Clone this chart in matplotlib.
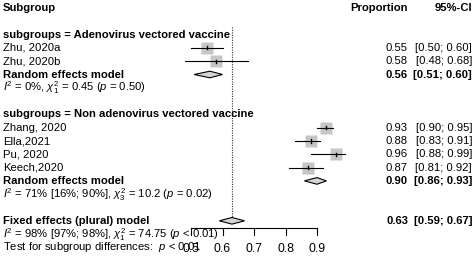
import matplotlib
matplotlib.use('Agg')
import matplotlib.pyplot as plt
from matplotlib.patches import Polygon
from matplotlib.transforms import blended_transform_factory

plt.rcParams['font.family'] = 'Liberation Sans'
plt.rcParams['mathtext.fontset'] = 'custom'
plt.rcParams['mathtext.rm'] = 'Liberation Sans'
plt.rcParams['mathtext.it'] = 'Liberation Sans:italic'
plt.rcParams['mathtext.bf'] = 'Liberation Sans:bold'

# study rows
studies = ['Zhu, 2020a', 'Zhu, 2020b', 'Zhang, 2020', 'Ella,2021', 'Pu, 2020', 'Keech,2020']
study_rows = [3, 4, 9, 10, 11, 12]
prop = [0.55, 0.58, 0.93, 0.88, 0.96, 0.87]
lower = [0.50, 0.48, 0.90, 0.83, 0.88, 0.81]
upper = [0.60, 0.68, 0.95, 0.91, 0.99, 0.92]
box_size = [10, 11, 11, 11, 11, 11]   # px

# pooled estimates
pooled_labels = ['Random effects model', 'Random effects model', 'Fixed effects (plural) model']
pooled_rows = [5, 13, 16]
pooled_est = [0.56, 0.90, 0.63]
pooled_lo = [0.51, 0.86, 0.59]
pooled_hi = [0.60, 0.93, 0.67]

group_labels = ['subgroups = Adenovirus vectored vaccine',
                'subgroups = Non adenovirus vectored vaccine']
group_rows = [2, 8]

het_text = [r'$I^2$ = 0%, $\chi^2_1$ = 0.45 ($p$ = 0.50)',
            r'$I^2$ = 71% [16%; 90%], $\chi^2_3$ = 10.2 ($p$ = 0.02)',
            r'$I^2$ = 98% [97%; 98%], $\chi^2_1$ = 74.75 ($p$ < 0.01)',
            r'Test for subgroup differences:  $p$ < 0.01']
het_rows = [6, 14, 17, 18]

ticks = [0.5, 0.6, 0.7, 0.8, 0.9]
ref_line = 0.63

W, H = 474, 258
fig = plt.figure(figsize=(W / 100, H / 100), dpi=100)
ax = fig.add_axes([0, 0, 1, 1])
ax.axis('off')
# 315 px per unit, 0.5 at x=191px ; 13.3 px per row, row 0 at y=8px
ax.set_xlim(0.5 - 191 / 315, 0.5 + (W - 191) / 315)
ax.set_ylim((H - 8) / 13.3, -8 / 13.3)

tr = blended_transform_factory(fig.transFigure, ax.transData)
fs = 8.1
LEFT = 3 / W
PROP_X = 408 / W
CI_X = 472 / W

ax.text(LEFT, 0, 'Subgroup', transform=tr, fontsize=fs, fontweight='bold', va='center')
ax.text(PROP_X, 0, 'Proportion', transform=tr, fontsize=fs, fontweight='bold', va='center', ha='right')
ax.text(CI_X, 0, '95%-CI', transform=tr, fontsize=fs, fontweight='bold', va='center', ha='right')

for lab, r in zip(group_labels, group_rows):
    ax.text(LEFT, r, lab, transform=tr, fontsize=fs, fontweight='bold', va='center')

# reference line (fixed effect estimate)
ax.plot([ref_line, ref_line], [1.45, 15.8], color='#333333', lw=0.8, ls=(0, (1, 1.2)), zorder=1)

for name, r, p, lo, hi, s in zip(studies, study_rows, prop, lower, upper, box_size):
    ax.text(LEFT, r, name, transform=tr, fontsize=fs, va='center')
    ax.plot(p, r, marker='s', ms=s * 0.8, color='#c6c6c6', mec='none', zorder=2)
    ax.plot([lo, hi], [r, r], color='black', lw=0.8, zorder=3)
    ax.plot([p, p], [r - 0.12, r + 0.12], color='black', lw=1.0, zorder=3)
    ax.text(PROP_X, r, f'{p:.2f}', transform=tr, fontsize=fs, va='center', ha='right')
    ax.text(CI_X, r, f'[{lo:.2f}; {hi:.2f}]', transform=tr, fontsize=fs, va='center', ha='right')

for lab, r, e, lo, hi in zip(pooled_labels, pooled_rows, pooled_est, pooled_lo, pooled_hi):
    ax.text(LEFT, r, lab, transform=tr, fontsize=fs, fontweight='bold', va='center')
    h = 0.25
    ax.add_patch(Polygon([(lo, r), (e, r - h), (hi, r), (e, r + h)], closed=True,
                         facecolor='#d4d4d4', edgecolor='black', lw=0.8, zorder=3))
    ax.text(PROP_X, r, f'{e:.2f}', transform=tr, fontsize=fs, fontweight='bold', va='center', ha='right')
    ax.text(CI_X, r, f'[{lo:.2f}; {hi:.2f}]', transform=tr, fontsize=fs, fontweight='bold',
            va='center', ha='right')

for t, r in zip(het_text, het_rows):
    ax.text(LEFT, r, t, transform=tr, fontsize=fs, va='center')

# x axis
axis_y = (228 - 8) / 13.3
tick_end = (235 - 8) / 13.3
ax.plot([ticks[0], ticks[-1]], [axis_y, axis_y], color='black', lw=0.8)
for t in ticks:
    ax.plot([t, t], [axis_y, tick_end], color='black', lw=0.8)
    ax.text(t, (249 - 8) / 13.3, f'{t:g}', fontsize=fs + 0.7, ha='center', va='center')

fig.savefig('out.png', dpi=100)
